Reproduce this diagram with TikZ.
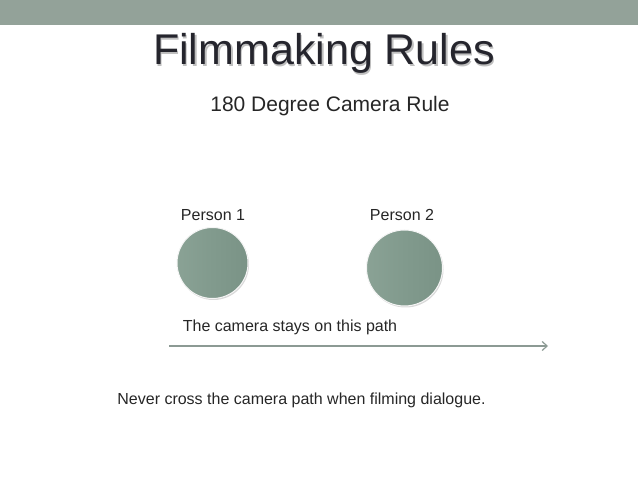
\documentclass[tikz,border=0pt]{standalone}
\usepackage{fontspec}
\setmainfont{Liberation Sans}
\usetikzlibrary{arrows.meta,shadows}
\definecolor{band}{HTML}{93A299}
\definecolor{disc}{HTML}{819A8D}
\definecolor{discl}{HTML}{8AA295}
\definecolor{discd}{HTML}{7A9386}
\definecolor{pathc}{HTML}{8C9A94}
\definecolor{ink}{HTML}{25252D}
\tikzset{
  lbl/.style={font=\fontsize{16}{19}\selectfont, text=black!85, inner sep=0pt},
  person/.style={circle, minimum size=#1, inner sep=0pt, draw=white!92!gray, line width=1pt,
    left color=discl, right color=discd, middle color=disc,
    drop shadow={shadow xshift=1pt, shadow yshift=-1.5pt, opacity=0.3}},
}
\begin{document}
\begin{tikzpicture}[x=1pt,y=-1pt]
\useasboundingbox (0,0) rectangle (638,478);
\fill[band] (0,0) rectangle (638,25);
\node[font=\fontsize{43}{50}\selectfont, text=black!25, inner sep=0pt] (titleshadow) at (325.5,55.5) {Filmmaking Rules};
\node[font=\fontsize{43}{50}\selectfont, text=ink, inner sep=0pt] (title) at (324,53) {Filmmaking Rules};
\node[font=\fontsize{21}{25}\selectfont, text=black!85, inner sep=0pt] (sub) at (330,106) {180 Degree Camera Rule};
\node[lbl] (l1) at (213,215) {Person 1};
\node[lbl] (l2) at (402,215) {Person 2};
\node[person=71pt] (p1) at (212.5,263) {};
\node[person=76pt] (p2) at (404.5,268) {};
\node[lbl] (cam) at (290,327) {The camera stays on this path};
\coordinate (a) at (169,346);
\coordinate (b) at (548,346);
\draw[pathc, line width=1.2pt, -{Straight Barb[length=5pt,width=9pt]}] (a) -- (b);
\node[lbl] (never) at (301.5,400) {Never cross the camera path when filming dialogue.};
\end{tikzpicture}
\end{document}
